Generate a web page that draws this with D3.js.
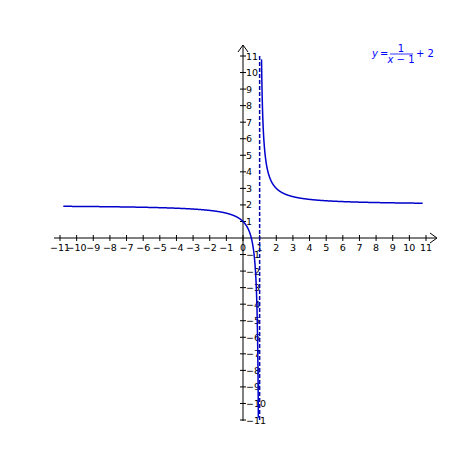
<!DOCTYPE html>
<html><head><meta charset="utf-8">
<script src="https://cdn.jsdelivr.net/npm/d3@7"></script>
<style>body{margin:0;background:#fff}</style></head>
<body><svg id="c" width="474" height="474"></svg>
<script>
const xTicks = [-11,-10,-9,-8,-7,-6,-5,-4,-3,-2,-1,0,1,2,3,4,5,6,7,8,9,10,11];
const yTicks = [-11,-10,-9,-8,-7,-6,-5,-4,-3,-2,-1,1,2,3,4,5,6,7,8,9,10,11];
const domainX = [-10.8, 10.8];
const asymptoteX = 1;
const f = x => 1/(x-1) + 2;

const svg = d3.select("#c");
const x = d3.scaleLinear().domain([-11,11]).range([60,426]);
const y = d3.scaleLinear().domain([-11,11]).range([420,56]);
const x0 = x(0), y0 = y(0);
const font = "DejaVu Sans";

svg.append("line").attr("x1",54).attr("x2",436).attr("y1",y0).attr("y2",y0).attr("stroke","#000");
svg.append("line").attr("x1",x0).attr("x2",x0).attr("y1",45).attr("y2",421).attr("stroke","#000");
svg.append("path").attr("d",`M${430},${y0-5}L${437},${y0}L${430},${y0+5}`).attr("fill","none").attr("stroke","#000");
svg.append("path").attr("d",`M${x0-5},${52}L${x0},${45}L${x0+5},${52}`).attr("fill","none").attr("stroke","#000");

const gx = svg.append("g");
xTicks.forEach(t=>{
  gx.append("line").attr("x1",x(t)).attr("x2",x(t)).attr("y1",y0-3).attr("y2",y0+3).attr("stroke","#000");
  gx.append("text").attr("x",x(t)).attr("y",y0+13).attr("text-anchor","middle")
    .attr("font-family",font).attr("font-size",9.5).text(t<0?"\u2212"+(-t):t);
});
yTicks.forEach(t=>{
  gx.append("line").attr("x1",x0-3).attr("x2",x0+3).attr("y1",y(t)).attr("y2",y(t)).attr("stroke","#000");
  gx.append("text").attr("x",x0+3).attr("y",y(t)+3.5).attr("text-anchor","start")
    .attr("font-family",font).attr("font-size",9.5).text(t<0?"\u2212"+(-t):t);
});

svg.append("line").attr("x1",x(asymptoteX)).attr("x2",x(asymptoteX)).attr("y1",y(11)).attr("y2",y(-11))
  .attr("stroke","#0000aa").attr("stroke-width",1.5).attr("stroke-dasharray","4,2");

const line = d3.line().x(d=>x(d[0])).y(d=>y(d[1]));
const left=[], right=[];
for(let i=0;i<=2000;i++){const t=domainX[0]+(0.999-domainX[0])*i/2000; const v=f(t); if(v>=-11) left.push([t,v]);}
for(let i=0;i<=2000;i++){const t=1.001+(domainX[1]-1.001)*i/2000; const v=f(t); if(v<=11) right.push([t,v]);}
[left,right].forEach(p=>svg.append("path").attr("d",line(p)).attr("fill","none").attr("stroke","#0000cc").attr("stroke-width",1.5));

const lg = svg.append("g").attr("fill","#0000ff").attr("font-family",font).attr("font-size",10);
lg.append("text").attr("x",372).attr("y",57).attr("font-style","italic").text("y");
lg.append("text").attr("x",380).attr("y",57).text("=");
lg.append("text").attr("x",401).attr("y",52).attr("text-anchor","middle").text("1");
lg.append("line").attr("x1",390).attr("x2",413).attr("y1",54).attr("y2",54).attr("stroke","#0000ff").attr("stroke-width",0.8);
lg.append("text").attr("x",401).attr("y",63).attr("text-anchor","middle").html('<tspan font-style="italic">x</tspan> \u2212 1');
lg.append("text").attr("x",416).attr("y",57).text("+ 2");
</script></body></html>
